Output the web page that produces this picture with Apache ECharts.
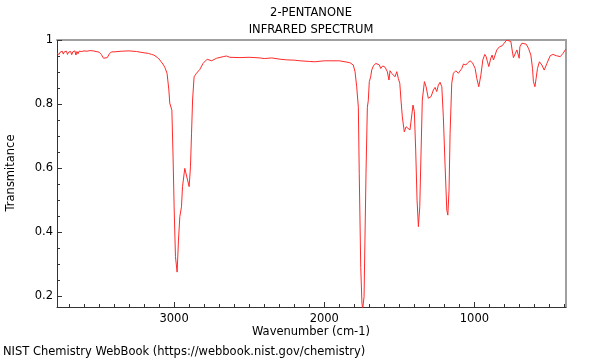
<!DOCTYPE html>
<html><head><meta charset="utf-8">
<script src="https://cdn.jsdelivr.net/npm/echarts@6/dist/echarts.min.js"></script>
<style>html,body{margin:0;padding:0;background:#fff}#c{width:600px;height:360px}</style>
</head><body><div id="c"></div>
<script>
const wavenumbers = [
3780,3773,3766,3759,3752,3745,3738,3731,3724,3717,3710,3703,3696,3689,3682,3675,3668,3661,3654,3647,3640,3633,3626,3615,3600,3580,3560,3540,3520,3500,3485,3470,3457,3445,3430,3415,3400,3350,3300,3250,3200,3170,3150,3135,3110,3095,3075,3062,3047,3035,3029,3015,3007,3000,2991,2980,2971,2962,2951,2944,2929,2917,2900,2891,2884,2877,2867,2851,2829,2807,2780,2751,2717,2673,2651,2629,2561,2500,2428,2400,2350,2295,2250,2200,2161,2100,2061,2050,2000,1962,1950,1900,1895,1862,1829,1807,1795,1784,1773,1767,1757,1749,1744,1735,1729,1722,1713,1707,1700,1691,1684,1673,1657,1647,1633,1624,1611,1595,1580,1569,1562,1551,1540,1529,1517,1507,1497,1489,1480,1467,1455,1444,1429,1417,1409,1400,1391,1382,1373,1364,1355,1347,1333,1322,1307,1289,1273,1262,1251,1240,1229,1217,1207,1195,1184,1177,1169,1162,1151,1140,1124,1107,1084,1073,1057,1044,1029,1013,1007,995,984,971,957,944,931,922,913,904,891,882,873,862,851,833,815,802,784,771,757,749,740,729,717,707,702,697,684,673,655,640,624,613,607,597,589,580,567,551,535,517,495,477,455,428,410,395,390];
const transmittance = [
0.958,0.964,0.955,0.962,0.957,0.965,0.956,0.963,0.958,0.965,0.955,0.962,0.957,0.964,0.954,0.963,0.958,0.966,0.953,0.964,0.957,0.965,0.960,0.964,0.966,0.965,0.967,0.966,0.964,0.962,0.955,0.943,0.937,0.945,0.958,0.963,0.963,0.965,0.966,0.964,0.960,0.958,0.955,0.953,0.945,0.9375,0.925,0.915,0.896,0.844,0.803,0.781,0.635,0.479,0.323,0.275,0.375,0.448,0.479,0.542,0.599,0.594,0.542,0.604,0.709,0.8125,0.885,0.896,0.908,0.927,0.940,0.935,0.943,0.948,0.950,0.946,0.945,0.946,0.944,0.942,0.944,0.940,0.938,0.937,0.935,0.933,0.932,0.934,0.935,0.935,0.936,0.935,0.935,0.932,0.929,0.922,0.901,0.854,0.790,0.584,0.290,0.178,0.160,0.198,0.375,0.584,0.790,0.810,0.870,0.885,0.906,0.919,0.927,0.925,0.922,0.911,0.919,0.915,0.901,0.875,0.904,0.896,0.901,0.885,0.901,0.880,0.865,0.8125,0.760,0.713,0.729,0.724,0.719,0.766,0.797,0.776,0.656,0.500,0.417,0.479,0.656,0.8125,0.870,0.854,0.818,0.823,0.844,0.852,0.839,0.859,0.868,0.854,0.760,0.604,0.469,0.453,0.531,0.708,0.865,0.896,0.904,0.896,0.911,0.925,0.922,0.929,0.935,0.929,0.927,0.911,0.880,0.854,0.890,0.9375,0.955,0.948,0.932,0.917,0.943,0.953,0.9375,0.943,0.969,0.979,0.982,0.990,1.000,1.002,0.995,0.969,0.945,0.943,0.969,0.974,0.943,0.979,0.990,0.995,0.987,0.974,0.953,0.911,0.870,0.854,0.880,0.911,0.932,0.922,0.906,0.927,0.951,0.955,0.951,0.948,0.958,0.969,0.972];
const xMajorTicks = [1000, 2000, 3000];
const xMinorTicks = [400,500,600,700,800,900,1100,1200,1300,1400,1500,1600,1700,1800,1900,2100,2200,2300,2400,2500,2600,2700,2800,2900,3100,3200,3300,3400,3500,3600,3700];
const yMajorTicks = [0.2, 0.4, 0.6, 0.8, 1];
const yMinorTicks = [0.25,0.3,0.35,0.45,0.5,0.55,0.65,0.7,0.75,0.85,0.9,0.95];
const titleLines = ['2-PENTANONE', 'INFRARED SPECTRUM'];
const xName = 'Wavenumber (cm-1)';
const yName = 'Transmitance';
const footer = 'NIST Chemistry WebBook (https://webbook.nist.gov/chemistry)';

const X_MIN = 390, X_MAX = 3780, Y_MIN = 0.166, Y_MAX = 1;
const FONT = 'DejaVu Sans';
const FS = 11.5;
const TXT = FS + 'px "DejaVu Sans"';
const dark = '#333333', gray = '#a0a0a0';

const chart = echarts.init(document.getElementById('c'), null, {renderer: 'canvas'});
const baseX = {type: 'value', min: X_MIN, max: X_MAX, inverse: true, splitLine: {show: false}, gridIndex: 0};
const baseY = {type: 'value', min: Y_MIN, max: Y_MAX, splitLine: {show: false}, gridIndex: 0};
chart.setOption({
  animation: false,
  backgroundColor: '#fff',
  grid: {left: 57, top: 40, width: 509, height: 267, containLabel: false},
  xAxis: [
    Object.assign({}, baseX, {position: 'bottom',
      axisLine: {show: true, lineStyle: {color: dark, width: 1}},
      axisTick: {show: true, inside: true, length: 5, customValues: xMajorTicks, lineStyle: {color: dark}},
      axisLabel: {show: true, customValues: xMajorTicks, color: '#000', fontSize: FS, fontFamily: FONT, margin: 6,
        formatter: v => String(Math.round(v))}}),
    Object.assign({}, baseX, {position: 'bottom',
      axisLine: {show: false},
      axisTick: {show: true, inside: true, length: 3, customValues: xMinorTicks, lineStyle: {color: dark}},
      axisLabel: {show: false}}),
    Object.assign({}, baseX, {position: 'top',
      axisLine: {show: true, lineStyle: {color: gray, width: 2}},
      axisTick: {show: false}, axisLabel: {show: false}})
  ],
  yAxis: [
    Object.assign({}, baseY, {position: 'left',
      axisLine: {show: true, lineStyle: {color: dark, width: 1}},
      axisTick: {show: true, inside: true, length: 5, customValues: yMajorTicks, lineStyle: {color: dark}},
      axisLabel: {show: true, customValues: yMajorTicks, color: '#000', fontSize: FS, fontFamily: FONT, margin: 4,
        formatter: v => String(+v.toFixed(2))}}),
    Object.assign({}, baseY, {position: 'left',
      axisLine: {show: false},
      axisTick: {show: true, inside: true, length: 3, customValues: yMinorTicks, lineStyle: {color: dark}},
      axisLabel: {show: false}}),
    Object.assign({}, baseY, {position: 'right',
      axisLine: {show: true, lineStyle: {color: gray, width: 2}},
      axisTick: {show: false}, axisLabel: {show: false}})
  ],
  series: [{
    type: 'line', xAxisIndex: 0, yAxisIndex: 0,
    data: wavenumbers.map((w, i) => [w, transmittance[i]]),
    showSymbol: false, symbol: 'none', clip: true,
    lineStyle: {color: '#ff2a2a', width: 1}
  }],
  graphic: [
    {type: 'text', x: 311, y: 13, style: {text: titleLines[0], font: TXT, fill: '#000', textAlign: 'center', textVerticalAlign: 'middle'}},
    {type: 'text', x: 311, y: 30, style: {text: titleLines[1], font: TXT, fill: '#000', textAlign: 'center', textVerticalAlign: 'middle'}},
    {type: 'text', x: 311, y: 332, style: {text: xName, font: TXT, fill: '#000', textAlign: 'center', textVerticalAlign: 'middle'}},
    {type: 'text', x: 11, y: 173, rotation: Math.PI / 2, style: {text: yName, font: TXT, fill: '#000', textAlign: 'center', textVerticalAlign: 'middle'}},
    {type: 'text', x: 3, y: 352, style: {text: footer, font: TXT, fill: '#000', textAlign: 'left', textVerticalAlign: 'middle'}}
  ]
});
</script></body></html>
